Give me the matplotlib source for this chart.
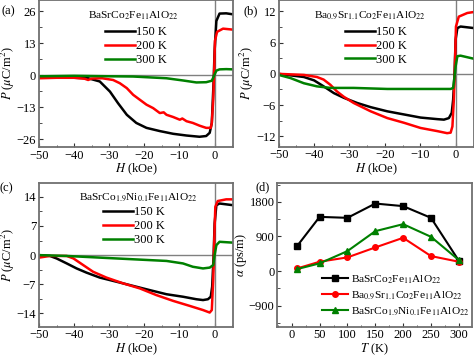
import numpy as np
import matplotlib
matplotlib.use("Agg")
from matplotlib import pyplot as plt
from matplotlib.ticker import MultipleLocator

plt.rcParams['font.family'] = ['Liberation Serif', 'DejaVu Serif']
plt.rcParams['mathtext.fontset'] = 'stix'
plt.rcParams['font.size'] = 9

# ---- panel (a): BaSrCo2Fe11AlO22 ----
a_H150 = [-50, -40, -36, -32.7, -29.8, -27.5, -25, -22.3, -19.4, -15.6, -11.8, -8, -4.3, -2.4, -1.4, -0.8, -0.3, 0, 0.5, 1.4, 3.3, 5.2]
a_P150 = [-1.0, -1.0, -1.2, -2.5, -6.6, -11.3, -16, -19.3, -21.3, -22.6, -23.7, -24.4, -24.9, -24.6, -23.3, -19.3, -3, 10, 22, 25, 25.1, 24.7]
a_H200 = [-50, -45, -40, -37, -36, -35, -32, -28.9, -27, -25, -23.2, -21.3, -19.4, -17.5, -15.6, -14.5, -13.7, -11.8, -9.9, -9.2, -8, -6.2, -4.3, -2.4, -1.1, -0.8, -0.4, -0.1, 0.1, 0.7, 2.4, 5.2]
a_P200 = [-1.2, -1.0, -1.0, -1.4, -1.9, -1.3, -1.2, -1.9, -3.2, -5.2, -7.9, -9.9, -11.9, -13.3, -15.3, -15.0, -16, -16.9, -18.0, -17.5, -18.6, -19.3, -20.4, -21.3, -21.3, -19.3, -10, 3, 14, 17.6, 18.9, 18.5]
a_H300 = [-50, -40, -30, -23.2, -13.7, -9, -5.2, -2.4, -0.8, -0.1, 0.5, 1.4, 3.3, 5.2]
a_P300 = [-0.4, -0.2, -0.4, -0.5, -1.2, -2.1, -2.9, -2.8, -2.2, 0, 1.9, 2.4, 2.5, 2.4]

# ---- panel (b): Ba0.9Sr1.1Co2Fe11AlO22 ----
b_H150 = [-50, -42.9, -40, -37.3, -34.4, -31.6, -27.8, -24, -19.3, -14.6, -9.9, -5.2, -3.3, -1.9, -1.1, -0.7, -0.3, 0, 0.5, 1.4, 5.2]
b_P150 = [0, -0.6, -1.25, -2.4, -3.7, -4.6, -5.6, -6.4, -7.2, -7.8, -8.4, -8.7, -8.8, -8.5, -7.5, -5, 0, 6.6, 8.8, 9.1, 8.8]
b_H200 = [-50, -42.9, -39.2, -37.3, -35.4, -33.5, -31.6, -28.8, -24, -19.3, -14.6, -9.9, -5.2, -2.4, -1.4, -0.9, -0.5, -0.2, 0.1, 0.9, 3.3, 5.2]
b_P200 = [0, -0.2, -0.6, -1.1, -2.1, -3.4, -4.4, -5.6, -7.2, -8.5, -9.4, -10.4, -11.0, -11.4, -11.3, -10.1, -5, 1.5, 9.1, 11, 11.7, 11.9]
b_H300 = [-50, -46.7, -42.9, -39.2, -35.4, -28.8, -19.3, -9.9, -1.4, -0.7, -0.3, 0, 0.5, 1.4, 5.2]
b_P300 = [-0.2, -0.8, -1.8, -2.4, -2.7, -2.7, -2.9, -2.9, -2.9, -2.7, -0.5, 1.4, 3.4, 3.5, 2.9]

# ---- panel (c): BaSrCo1.9Ni0.1Fe11AlO22 ----
c_H150 = [-50, -46.9, -45, -42.1, -39.3, -36.5, -32.7, -27.9, -23.2, -18.5, -13.7, -9, -5.2, -3.3, -1.9, -1.1, -0.7, -0.3, 0, 0.5, 1.4, 5.2]
c_P150 = [0, -0.2, -0.8, -2, -3.2, -4.2, -5.4, -6.4, -7.4, -8.4, -9.4, -10.0, -10.6, -10.8, -10.6, -10.0, -7.6, -0.4, 7.6, 12, 12.4, 12]
c_H200 = [-50, -46.9, -42.1, -40.2, -37.4, -34.6, -30.8, -26, -21.3, -16.6, -11.8, -7.1, -3.3, -1.4, -0.8, -0.4, -0.1, 0.2, 0.9, 3.3, 5.2]
c_P200 = [-0.6, -0.2, -0.2, -0.8, -2.4, -4.0, -5.4, -6.8, -8.0, -9.6, -11.0, -12.2, -13.2, -13.8, -13.2, -6, 3.6, 11.6, 13, 13.4, 13.4]
c_H300 = [-50, -42.1, -32.7, -23.2, -13.7, -9, -6.2, -3.3, -1.4, -0.4, 0, 0.5, 1.4, 5.2]
c_P300 = [0, -0.2, -0.6, -1.0, -1.4, -2.0, -2.8, -3.2, -3.0, -2.4, 0, 2.4, 3.2, 3.0]

# ---- panel (d): alpha vs T ----
T = [10, 50, 100, 150, 200, 250, 300]
alpha_a = [658, 1410, 1385, 1757, 1690, 1385, 268]
alpha_b = [69, 242, 355, 614, 865, 389, 242]
alpha_c = [52, 199, 519, 1038, 1220, 891, 285]

name_a = r'BaSrCo$_2$Fe$_{11}$AlO$_{22}$'
name_b = r'Ba$_{0.9}$Sr$_{1.1}$Co$_2$Fe$_{11}$AlO$_{22}$'
name_c = r'BaSrCo$_{1.9}$Ni$_{0.1}$Fe$_{11}$AlO$_{22}$'

spine_col = '#707070'

fig = plt.figure(figsize=(4.74, 3.6), dpi=100)
axa = fig.add_axes([0.0823, 0.592, 0.409, 0.408])
axb = fig.add_axes([0.588, 0.5925, 0.412, 0.4075])
axc = fig.add_axes([0.0823, 0.0925, 0.409, 0.400])
axd = fig.add_axes([0.585, 0.0925, 0.410, 0.400])


def style(ax):
    for s in ax.spines.values():
        s.set_color(spine_col)
        s.set_linewidth(1.3)
    ax.tick_params(which='both', direction='in', colors='#333333', labelcolor='black', labelsize=9, pad=2)
    ax.tick_params(which='major', length=3)
    ax.tick_params(which='minor', length=1.8)


def hyst(ax, curves, title, ylim, ystep, tpos, lpos):
    ax.axhline(0, color='#808080', lw=1)
    ax.axvline(0, color='#808080', lw=1)
    for (h, p), c, lab in zip(curves, ['black', 'red', 'green'], ['150 K', '200 K', '300 K']):
        ax.plot(h, p, color=c, lw=1.8, label=lab)
    ax.set_xlim(-50, 5.2)
    ax.set_ylim(*ylim)
    ax.set_xticks([-50, -40, -30, -20, -10, 0])
    ax.xaxis.set_minor_locator(MultipleLocator(5))
    ax.set_yticks([-2 * ystep, -ystep, 0, ystep, 2 * ystep])
    ax.yaxis.set_minor_locator(MultipleLocator(ystep / 2))
    ax.set_xlabel(r'$H$ (kOe)', labelpad=0)
    ax.set_ylabel(r'$P$ ($\mu$C/m$^2$)', labelpad=0)
    ax.text(tpos[0], tpos[1], title, transform=ax.transAxes, ha='center', va='center', fontsize=8.2)
    ax.legend(loc='upper left', bbox_to_anchor=lpos, frameon=False,
              fontsize=9, handlelength=2.4, handletextpad=0.1,
              labelspacing=0.15, borderpad=0, borderaxespad=0)
    style(ax)


hyst(axa, [(a_H150, a_P150), (a_H200, a_P200), (a_H300, a_P300)], name_a, (-29, 30.5), 13,
     (0.485, 0.895), (0.341, 0.822))
hyst(axb, [(b_H150, b_P150), (b_H200, b_P200), (b_H300, b_P300)], name_b, (-14, 14.2), 6,
     (0.467, 0.895), (0.339, 0.822))
hyst(axc, [(c_H150, c_P150), (c_H200, c_P200), (c_H300, c_P300)], name_c, (-17.2, 17.4), 7,
     (0.51, 0.900), (0.330, 0.836))

axd.plot(T, alpha_a, color='black', marker='s', ms=4, lw=1.5, label=name_a)
axd.plot(T, alpha_b, color='red', marker='o', ms=4, lw=1.5, label=name_b)
axd.plot(T, alpha_c, color='green', marker='^', ms=4.5, lw=1.5, label=name_c)
axd.set_xlim(-26, 323)
axd.set_ylim(-1450, 2300)
axd.set_xticks([0, 50, 100, 150, 200, 250, 300])
axd.xaxis.set_minor_locator(MultipleLocator(25))
axd.set_yticks([-900, 0, 900, 1800])
axd.yaxis.set_minor_locator(MultipleLocator(450))
axd.set_xlabel(r'$T$ (K)', labelpad=0)
axd.set_ylabel(r'$\alpha$ (ps/m)', labelpad=0)
axd.legend(loc='upper left', bbox_to_anchor=(0.228, 0.372), frameon=False, fontsize=8.2,
           handlelength=2.3, handletextpad=0.3, labelspacing=0.35, borderpad=0, borderaxespad=0)
style(axd)

fig.text(0.004, 0.985, '(a)', ha='left', va='top', fontsize=9)
fig.text(0.513, 0.985, '(b)', ha='left', va='top', fontsize=9)
fig.text(0.0, 0.495, '(c)', ha='left', va='top', fontsize=9)
fig.text(0.540, 0.497, '(d)', ha='left', va='top', fontsize=9)

fig.savefig('out.png', dpi=100)
